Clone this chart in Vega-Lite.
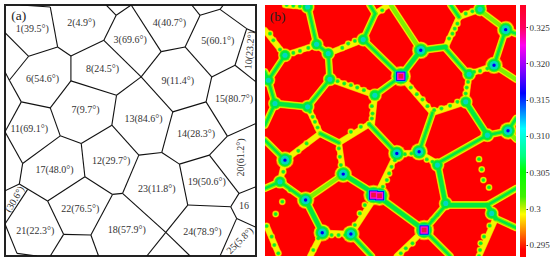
{"$schema":"https://vega.github.io/schema/vega-lite/v6.json","padding":{"left":4,"top":4,"right":0,"bottom":0},"background":"white","bounds":"flush","spacing":9,
"datasets":{
"segA":[{"x":60,"y":14,"x2":150,"y2":20},{"x":150,"y":20,"x2":172,"y2":140},{"x":172,"y":140,"x2":212,"y2":167},{"x":172,"y":140,"x2":85,"y2":168},{"x":85,"y":168,"x2":14,"y2":97},{"x":85,"y":168,"x2":27,"y2":240},{"x":27,"y":240,"x2":14,"y2":215},{"x":27,"y":240,"x2":63,"y2":305},{"x":63,"y":305,"x2":14,"y2":395},{"x":14,"y":395,"x2":67,"y2":490},{"x":67,"y":490,"x2":180,"y2":407},{"x":63,"y":305,"x2":150,"y2":323},{"x":150,"y":323,"x2":212,"y2":242},{"x":212,"y":242,"x2":212,"y2":167},{"x":212,"y":167,"x2":311,"y2":120},{"x":311,"y":120,"x2":348,"y2":45},{"x":348,"y":45,"x2":393,"y2":14},{"x":348,"y":45,"x2":318,"y2":14},{"x":393,"y":14,"x2":483,"y2":154},{"x":311,"y":120,"x2":423,"y2":230},{"x":423,"y":230,"x2":483,"y2":154},{"x":483,"y":154,"x2":555,"y2":140},{"x":555,"y":140,"x2":600,"y2":45},{"x":600,"y":45,"x2":575,"y2":14},{"x":600,"y":45,"x2":660,"y2":27},{"x":660,"y":27,"x2":670,"y2":14},{"x":660,"y":27,"x2":740,"y2":85},{"x":740,"y":85,"x2":768,"y2":97},{"x":740,"y":85,"x2":705,"y2":195},{"x":555,"y":140,"x2":635,"y2":230},{"x":635,"y":230,"x2":705,"y2":195},{"x":705,"y":195,"x2":768,"y2":245},{"x":635,"y":230,"x2":618,"y2":305},{"x":423,"y":230,"x2":518,"y2":335},{"x":518,"y":335,"x2":618,"y2":305},{"x":618,"y":305,"x2":682,"y2":408},{"x":682,"y":408,"x2":768,"y2":370},{"x":682,"y":408,"x2":628,"y2":465},{"x":628,"y":465,"x2":538,"y2":492},{"x":628,"y":465,"x2":717,"y2":580},{"x":717,"y":580,"x2":768,"y2":560},{"x":717,"y":580,"x2":692,"y2":620},{"x":692,"y":620,"x2":563,"y2":615},{"x":563,"y":615,"x2":538,"y2":492},{"x":538,"y":492,"x2":485,"y2":457},{"x":485,"y":457,"x2":518,"y2":335},{"x":485,"y":457,"x2":416,"y2":465},{"x":416,"y":465,"x2":335,"y2":375},{"x":335,"y":375,"x2":349,"y2":285},{"x":349,"y":285,"x2":423,"y2":230},{"x":349,"y":285,"x2":212,"y2":242},{"x":335,"y":375,"x2":243,"y2":430},{"x":243,"y":430,"x2":180,"y2":407},{"x":180,"y":407,"x2":150,"y2":323},{"x":243,"y":430,"x2":254,"y2":530},{"x":254,"y":530,"x2":142,"y2":603},{"x":142,"y":603,"x2":57,"y2":552},{"x":57,"y":552,"x2":67,"y2":490},{"x":57,"y":552,"x2":14,"y2":572},{"x":82,"y":568,"x2":14,"y2":672},{"x":142,"y":603,"x2":190,"y2":703},{"x":190,"y":703,"x2":150,"y2":768},{"x":190,"y":703,"x2":272,"y2":705},{"x":272,"y":705,"x2":337,"y2":583},{"x":337,"y":583,"x2":254,"y2":530},{"x":337,"y":583,"x2":367,"y2":580},{"x":367,"y":580,"x2":416,"y2":465},{"x":367,"y":580,"x2":497,"y2":697},{"x":497,"y":697,"x2":563,"y2":615},{"x":497,"y":697,"x2":570,"y2":768},{"x":497,"y":697,"x2":440,"y2":768},{"x":272,"y":705,"x2":295,"y2":768},{"x":692,"y":620,"x2":710,"y2":655},{"x":710,"y":655,"x2":768,"y2":682},{"x":710,"y":655,"x2":660,"y2":768},{"x":14,"y":672,"x2":50,"y2":760},{"x":50,"y":760,"x2":110,"y2":768}],
"segB":[{"x":142,"y":14,"x2":169,"y2":132,"k":"s"},{"x":169,"y":132,"x2":204,"y2":160,"k":"s"},{"x":204,"y":160,"x2":209,"y2":237,"k":"s"},{"x":74,"y":14,"x2":142,"y2":20,"k":"b"},{"x":156,"y":138,"x2":74,"y2":165,"k":"b"},{"x":14,"y":90,"x2":74,"y2":165,"k":"b"},{"x":74,"y":165,"x2":24,"y2":240,"k":"s"},{"x":24,"y":240,"x2":14,"y2":215,"k":"s"},{"x":24,"y":240,"x2":44,"y2":310,"k":"s"},{"x":44,"y":310,"x2":142,"y2":320,"k":"w"},{"x":142,"y":320,"x2":209,"y2":237,"k":"s"},{"x":44,"y":310,"x2":14,"y2":375,"k":"s"},{"x":142,"y":320,"x2":180,"y2":400,"k":"b"},{"x":180,"y":400,"x2":236,"y2":428,"k":"s"},{"x":236,"y":428,"x2":327,"y2":372,"k":"b"},{"x":327,"y":372,"x2":410,"y2":460,"k":"s"},{"x":335,"y":372,"x2":344,"y2":285,"k":"b"},{"x":209,"y":237,"x2":344,"y2":285,"k":"b"},{"x":344,"y":285,"x2":422,"y2":228,"k":"s"},{"x":204,"y":160,"x2":309,"y2":118,"k":"b"},{"x":309,"y":118,"x2":422,"y2":228,"k":"s"},{"x":309,"y":118,"x2":345,"y2":40,"k":"s"},{"x":345,"y":40,"x2":329,"y2":14,"k":"s"},{"x":345,"y":40,"x2":385,"y2":14,"k":"b"},{"x":392,"y":14,"x2":480,"y2":148,"k":"t"},{"x":422,"y":228,"x2":482,"y2":150,"k":"w"},{"x":482,"y":150,"x2":557,"y2":140,"k":"w"},{"x":557,"y":140,"x2":597,"y2":50,"k":"b"},{"x":597,"y":50,"x2":572,"y2":14,"k":"s"},{"x":597,"y":50,"x2":657,"y2":28,"k":"b"},{"x":657,"y":28,"x2":668,"y2":14,"k":"s"},{"x":657,"y":28,"x2":737,"y2":88,"k":"t"},{"x":737,"y":88,"x2":768,"y2":100,"k":"s"},{"x":737,"y":88,"x2":702,"y2":195,"k":"s"},{"x":702,"y":195,"x2":768,"y2":238,"k":"t"},{"x":702,"y":195,"x2":627,"y2":222,"k":"b"},{"x":557,"y":145,"x2":627,"y2":225,"k":"s"},{"x":627,"y":225,"x2":617,"y2":305,"k":"b"},{"x":617,"y":305,"x2":517,"y2":338,"k":"b"},{"x":422,"y":228,"x2":517,"y2":338,"k":"b"},{"x":617,"y":305,"x2":682,"y2":405,"k":"w"},{"x":682,"y":405,"x2":744,"y2":392,"k":"s"},{"x":744,"y":392,"x2":768,"y2":355,"k":"s"},{"x":744,"y":392,"x2":768,"y2":418,"k":"t"},{"x":682,"y":405,"x2":532,"y2":490,"k":"s"},{"x":517,"y":338,"x2":477,"y2":455,"k":"s"},{"x":410,"y":460,"x2":477,"y2":458,"k":"b"},{"x":477,"y":458,"x2":532,"y2":490,"k":"b"},{"x":532,"y":490,"x2":557,"y2":615,"k":"w"},{"x":557,"y":615,"x2":682,"y2":615,"k":"w"},{"x":682,"y":615,"x2":707,"y2":655,"k":"w"},{"x":682,"y":615,"x2":768,"y2":565,"k":"s"},{"x":707,"y":655,"x2":768,"y2":683,"k":"s"},{"x":707,"y":655,"x2":657,"y2":768,"k":"b"},{"x":557,"y":615,"x2":492,"y2":690,"k":"s"},{"x":349,"y":585,"x2":492,"y2":690,"k":"w"},{"x":410,"y":460,"x2":349,"y2":585,"k":"b"},{"x":349,"y":585,"x2":249,"y2":522,"k":"w"},{"x":249,"y":522,"x2":136,"y2":600,"k":"t"},{"x":14,"y":420,"x2":74,"y2":480,"k":"s"},{"x":74,"y":480,"x2":180,"y2":400,"k":"b"},{"x":74,"y":480,"x2":59,"y2":545,"k":"b"},{"x":59,"y":545,"x2":14,"y2":565,"k":"s"},{"x":59,"y":545,"x2":136,"y2":600,"k":"s"},{"x":136,"y":600,"x2":186,"y2":698,"k":"w"},{"x":186,"y":698,"x2":272,"y2":702,"k":"b"},{"x":272,"y":702,"x2":349,"y2":585,"k":"b"},{"x":186,"y":698,"x2":150,"y2":768,"k":"b"},{"x":272,"y":702,"x2":334,"y2":768,"k":"s"},{"x":492,"y":690,"x2":410,"y2":768,"k":"b"},{"x":492,"y":690,"x2":570,"y2":768,"k":"s"},{"x":236,"y":428,"x2":249,"y2":522,"k":"b"},{"x":19,"y":678,"x2":54,"y2":760,"k":"b"}],
"beads":[{"x":79,"y":14},{"x":99,"y":16},{"x":119,"y":18},{"x":144,"y":143},{"x":119,"y":152},{"x":99,"y":158},{"x":29,"y":100},{"x":39,"y":120},{"x":59,"y":148},{"x":246,"y":143},{"x":264,"y":130},{"x":284,"y":122},{"x":366,"y":30},{"x":567,"y":115},{"x":577,"y":100},{"x":584,"y":85},{"x":592,"y":70},{"x":617,"y":40},{"x":637,"y":33},{"x":682,"y":205},{"x":660,"y":212},{"x":642,"y":215},{"x":624,"y":245},{"x":620,"y":262},{"x":617,"y":280},{"x":592,"y":305},{"x":570,"y":317},{"x":544,"y":325},{"x":522,"y":330},{"x":452,"y":262},{"x":470,"y":282},{"x":487,"y":298},{"x":502,"y":318},{"x":149,"y":335},{"x":157,"y":350},{"x":164,"y":365},{"x":172,"y":382},{"x":272,"y":395},{"x":302,"y":380},{"x":327,"y":372},{"x":335,"y":318},{"x":337,"y":340},{"x":335,"y":355},{"x":232,"y":243},{"x":252,"y":250},{"x":272,"y":255},{"x":291,"y":262},{"x":311,"y":270},{"x":434,"y":462},{"x":454,"y":460},{"x":500,"y":478},{"x":517,"y":485},{"x":657,"y":477},{"x":665,"y":508},{"x":670,"y":540},{"x":687,"y":562},{"x":689,"y":677},{"x":672,"y":710},{"x":662,"y":730},{"x":660,"y":750},{"x":657,"y":768},{"x":404,"y":480},{"x":394,"y":500},{"x":387,"y":520},{"x":380,"y":540},{"x":368,"y":560},{"x":236,"y":445},{"x":239,"y":470},{"x":242,"y":495},{"x":89,"y":470},{"x":114,"y":452},{"x":139,"y":430},{"x":69,"y":515},{"x":89,"y":570},{"x":66,"y":605},{"x":46,"y":642},{"x":19,"y":678},{"x":34,"y":710},{"x":42,"y":735},{"x":54,"y":760},{"x":214,"y":705},{"x":235,"y":705},{"x":255,"y":705},{"x":284,"y":675},{"x":299,"y":640},{"x":314,"y":615},{"x":174,"y":715},{"x":159,"y":750},{"x":457,"y":730},{"x":437,"y":745},{"x":422,"y":760},{"x":532,"y":645},{"x":517,"y":660}],
"junctions":[{"x":422,"y":228,"k":"big"},{"x":340,"y":585,"k":"big"},{"x":358,"y":587,"k":"big"},{"x":492,"y":690,"k":"big"},{"x":737,"y":88,"k":"mid"},{"x":482,"y":150,"k":"mid"},{"x":702,"y":195,"k":"mid"},{"x":744,"y":392,"k":"mid"},{"x":410,"y":460,"k":"mid"},{"x":477,"y":455,"k":"mid"},{"x":74,"y":480,"k":"mid"},{"x":249,"y":522,"k":"mid"},{"x":136,"y":600,"k":"mid"},{"x":186,"y":698,"k":"mid"},{"x":272,"y":702,"k":"mid"},{"x":74,"y":165,"k":"small"},{"x":24,"y":240,"k":"small"},{"x":169,"y":132,"k":"small"},{"x":204,"y":160,"k":"small"},{"x":209,"y":237,"k":"small"},{"x":142,"y":20,"k":"small"},{"x":344,"y":285,"k":"small"},{"x":627,"y":222,"k":"small"},{"x":660,"y":27,"k":"small"},{"x":557,"y":610,"k":"small"},{"x":695,"y":640,"k":"small"},{"x":617,"y":305,"k":"small"},{"x":44,"y":310,"k":"small"},{"x":142,"y":320,"k":"small"},{"x":309,"y":118,"k":"small"},{"x":532,"y":495,"k":"small"},{"x":682,"y":405,"k":"small"},{"x":59,"y":545,"k":"small"}],
"labels":[{"t":"1(39.5°)","x":96,"y":85},{"t":"2(4.9°)","x":243,"y":68},{"t":"3(69.6°)","x":390,"y":120},{"t":"4(40.7°)","x":508,"y":67},{"t":"5(60.1°)","x":653,"y":123},{"t":"6(54.6°)","x":127,"y":235},{"t":"7(9.7°)","x":256,"y":330},{"t":"8(24.5°)","x":307,"y":205},{"t":"9(11.4°)","x":533,"y":243},{"t":"11(69.1°)","x":87,"y":387},{"t":"12(29.7°)","x":333,"y":482},{"t":"13(84.6°)","x":430,"y":357},{"t":"14(28.3°)","x":588,"y":403},{"t":"15(80.7°)","x":702,"y":297},{"t":"17(48.0°)","x":163,"y":511},{"t":"18(57.9°)","x":380,"y":690},{"t":"19(50.6°)","x":620,"y":547},{"t":"21(22.3°)","x":105,"y":693},{"t":"22(76.5°)","x":240,"y":627},{"t":"23(11.8°)","x":470,"y":566},{"t":"24(78.9°)","x":607,"y":697},{"t":"16","x":732,"y":618}]
},
"hconcat":[
{"width":251,"height":251,"view":{"stroke":"#222","strokeWidth":2,"fill":"white"},
"encoding":{"x":{"field":"x","type":"quantitative","scale":{"domain":[14,768],"nice":false,"zero":false},"axis":null},"y":{"field":"y","type":"quantitative","scale":{"domain":[768,14],"nice":false,"zero":false},"axis":null}},
"layer":[
{"data":{"name":"segA"},"mark":{"type":"rule","color":"#111","strokeWidth":1.1,"clip":true},"encoding":{"x2":{"field":"x2"},"y2":{"field":"y2"}}},
{"data":{"name":"labels"},"mark":{"type":"text","font":"Liberation Serif","fontSize":10,"color":"#333","clip":true},"encoding":{"text":{"field":"t"}}},
{"data":{"values":[{"t":"10(23.2°)","x":750,"y":150}]},"mark":{"type":"text","font":"Liberation Serif","fontSize":10,"color":"#333","angle":275,"clip":true},"encoding":{"text":{"field":"t"}}},
{"data":{"values":[{"t":"20(61.2°)","x":723,"y":472}]},"mark":{"type":"text","font":"Liberation Serif","fontSize":10,"color":"#333","angle":270,"clip":true},"encoding":{"text":{"field":"t"}}},
{"data":{"values":[{"t":"(30.6°)","x":43,"y":598}]},"mark":{"type":"text","font":"Liberation Serif","fontSize":10,"color":"#333","angle":300,"clip":true},"encoding":{"text":{"field":"t"}}},
{"data":{"values":[{"t":"25(5.8°)","x":720,"y":722}]},"mark":{"type":"text","font":"Liberation Serif","fontSize":10,"color":"#333","angle":315,"clip":true},"encoding":{"text":{"field":"t"}}},
{"data":{"values":[{"t":"(a)","x":55,"y":48}]},"mark":{"type":"text","font":"Liberation Serif","fontSize":13.5,"color":"#222","clip":true},"encoding":{"text":{"field":"t"}}}
]},
{"spacing":4,"bounds":"flush","hconcat":[
{"width":251,"height":251,"view":{"stroke":null,"fill":"#ff0000"},
"resolve":{"scale":{"size":"independent","strokeWidth":"independent","shape":"independent"}},
"encoding":{"x":{"field":"x","type":"quantitative","scale":{"domain":[14,768],"nice":false,"zero":false},"axis":null},"y":{"field":"y","type":"quantitative","scale":{"domain":[768,14],"nice":false,"zero":false},"axis":null}},
"layer":[
{"data":{"name":"segB"},"mark":{"type":"rule","color":"#ff9000","strokeCap":"round","clip":true},"encoding":{"x2":{"field":"x2"},"y2":{"field":"y2"},"strokeWidth":{"field":"k","scale":{"domain":["w","s","t","b"],"range":[8,6.5,4.5,1.5]},"legend":null}}},
{"data":{"name":"junctions"},"mark":{"type":"point","filled":true,"opacity":1,"color":"#ff9000","clip":true},"encoding":{"size":{"field":"k","scale":{"domain":["big","mid","small"],"range":[420,200,110]},"legend":null}}},
{"data":{"name":"beads"},"mark":{"type":"point","filled":true,"opacity":1,"color":"#ff9000","size":48,"clip":true}},
{"data":{"name":"segB"},"mark":{"type":"rule","color":"#f4f400","strokeCap":"round","clip":true},"encoding":{"x2":{"field":"x2"},"y2":{"field":"y2"},"strokeWidth":{"field":"k","scale":{"domain":["w","s","t","b"],"range":[7,5.5,3.2,0.7]},"legend":null}}},
{"data":{"name":"junctions"},"mark":{"type":"point","filled":true,"opacity":1,"color":"#f4f400","clip":true},"encoding":{"size":{"field":"k","scale":{"domain":["big","mid","small"],"range":[340,160,85]},"legend":null}}},
{"data":{"name":"beads"},"mark":{"type":"point","filled":true,"opacity":1,"color":"#f4f400","size":32,"clip":true}},
{"data":{"name":"segB"},"transform":[{"filter":"datum.k!='b'"}],"mark":{"type":"rule","color":"#80f000","strokeCap":"round","clip":true},"encoding":{"x2":{"field":"x2"},"y2":{"field":"y2"},"strokeWidth":{"field":"k","scale":{"domain":["w","s","t"],"range":[5.8,4.2,1.8]},"legend":null}}},
{"data":{"name":"junctions"},"mark":{"type":"point","filled":true,"opacity":1,"color":"#60f000","clip":true},"encoding":{"size":{"field":"k","scale":{"domain":["big","mid","small"],"range":[270,125,60]},"legend":null}}},
{"data":{"name":"beads"},"mark":{"type":"point","filled":true,"opacity":1,"color":"#60f000","size":18,"clip":true}},
{"data":{"name":"segB"},"transform":[{"filter":"datum.k=='w'||datum.k=='s'"}],"mark":{"type":"rule","color":"#00e840","strokeCap":"round","clip":true},"encoding":{"x2":{"field":"x2"},"y2":{"field":"y2"},"strokeWidth":{"field":"k","scale":{"domain":["w","s"],"range":[4.2,2.6]},"legend":null}}},
{"data":{"name":"junctions"},"mark":{"type":"point","filled":true,"opacity":1,"color":"#00e840","clip":true},"encoding":{"size":{"field":"k","scale":{"domain":["big","mid","small"],"range":[210,90,36]},"legend":null}}},
{"data":{"name":"beads"},"mark":{"type":"point","filled":true,"opacity":1,"color":"#00e840","size":7,"clip":true}},
{"data":{"name":"junctions"},"mark":{"type":"point","filled":true,"opacity":1,"color":"#00d8c0","clip":true},"encoding":{"shape":{"field":"k","scale":{"domain":["big","mid","small"],"range":["square","circle","circle"]},"legend":null},"size":{"field":"k","scale":{"domain":["big","mid","small"],"range":[120,26,6]},"legend":null}}},
{"data":{"name":"junctions"},"transform":[{"filter":"datum.k!='small'"}],"mark":{"type":"point","filled":true,"opacity":1,"color":"#0000f0","clip":true},"encoding":{"shape":{"field":"k","scale":{"domain":["big","mid"],"range":["square","circle"]},"legend":null},"size":{"field":"k","scale":{"domain":["big","mid"],"range":[85,12]},"legend":null}}},
{"data":{"name":"junctions"},"transform":[{"filter":"datum.k=='big'"}],"mark":{"type":"point","filled":true,"opacity":1,"shape":"square","color":"#ff10e0","size":56,"clip":true}},
{"data":{"name":"junctions"},"transform":[{"filter":"datum.k=='big'"}],"mark":{"type":"point","filled":true,"opacity":1,"shape":"square","color":"#f01040","size":22,"clip":true}},
{"data":{"values":[{"t":"(b)","x":52,"y":50}]},"mark":{"type":"text","font":"Liberation Serif","fontSize":13.5,"color":"#222","clip":true},"encoding":{"text":{"field":"t"}}}
]},
{"width":6,"height":252,"view":{"stroke":null},
"data":{"values":[{"lo":0.29333,"hi":0.32803}]},
"mark":{"type":"rect","color":{"gradient":"linear","x1":0,"y1":0,"x2":0,"y2":1,"stops":[{"offset":0,"color":"#ff0020"},{"offset":0.09,"color":"#ff0060"},{"offset":0.16,"color":"#ff00f0"},{"offset":0.26,"color":"#8000ff"},{"offset":0.35,"color":"#0000ff"},{"offset":0.49,"color":"#00ffff"},{"offset":0.6,"color":"#00ff80"},{"offset":0.66,"color":"#00ff00"},{"offset":0.76,"color":"#40f000"},{"offset":0.8,"color":"#b0f000"},{"offset":0.83,"color":"#ffff00"},{"offset":0.9,"color":"#ff8000"},{"offset":0.97,"color":"#ff0000"},{"offset":1,"color":"#ff0000"}]}},
"encoding":{"y":{"field":"lo","type":"quantitative","scale":{"domain":[0.29333,0.32803],"nice":false,"zero":false},"axis":{"orient":"right","title":null,"values":[0.295,0.3,0.305,0.31,0.315,0.32,0.325],"labelExpr":"datum.value==0.3?'0.3':format(datum.value,'.3f')","labelFont":"Liberation Serif","labelFontSize":9,"labelColor":"#333","labelPadding":1.5,"tickSize":1.5,"tickColor":"#333","domain":false,"grid":false}},"y2":{"field":"hi"}}}
]}
]}
